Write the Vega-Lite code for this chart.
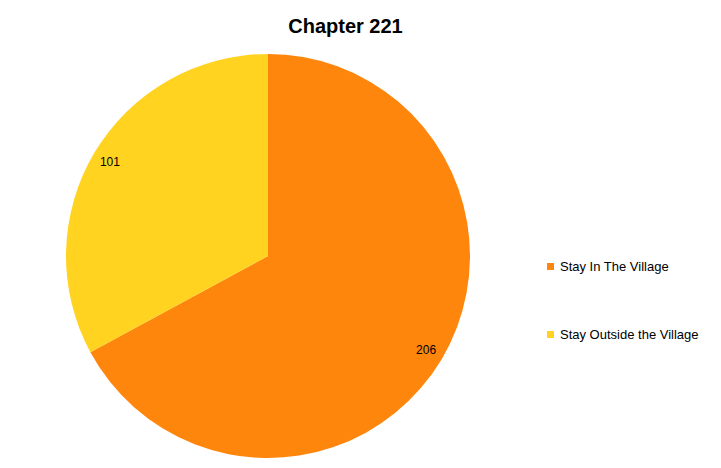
{
  "$schema": "https://vega.github.io/schema/vega-lite/v6.json",
  "width": 536,
  "height": 424,
  "autosize": {"type": "none"},
  "padding": {"left": 0, "top": 44, "right": 185, "bottom": 0},
  "background": "white",
  "title": {"text": "Chapter 221", "font": "Liberation Sans", "fontSize": 20, "fontWeight": "bold", "color": "black", "anchor": "middle", "frame": "bounds", "offset": 7, "dx": -4},
  "data": {"values": [
    {"category": "Stay In The Village", "value": 206, "ord": 1},
    {"category": "Stay Outside the Village", "value": 101, "ord": 2}
  ]},
  "encoding": {
    "theta": {"field": "value", "type": "quantitative", "stack": true},
    "order": {"field": "ord", "type": "quantitative"},
    "color": {
      "field": "category", "type": "nominal",
      "scale": {"domain": ["Stay In The Village", "Stay Outside the Village"], "range": ["#FF860D", "#FFD320"]},
      "legend": {"title": null, "orient": "none", "legendX": 544, "legendY": 216, "symbolType": "square", "symbolSize": 49, "symbolStrokeWidth": 0, "labelFont": "Liberation Sans", "labelFontSize": 13, "labelColor": "black", "rowPadding": 54, "labelOffset": 3}
    }
  },
  "layer": [
    {"mark": {"type": "arc", "radius": 202, "stroke": null}},
    {"mark": {"type": "text", "radius": 184, "font": "Liberation Sans", "fontSize": 12, "color": "black"},
     "encoding": {"text": {"field": "value", "type": "quantitative"}, "color": {"value": "black"}}}
  ],
  "config": {"view": {"stroke": null}}
}
